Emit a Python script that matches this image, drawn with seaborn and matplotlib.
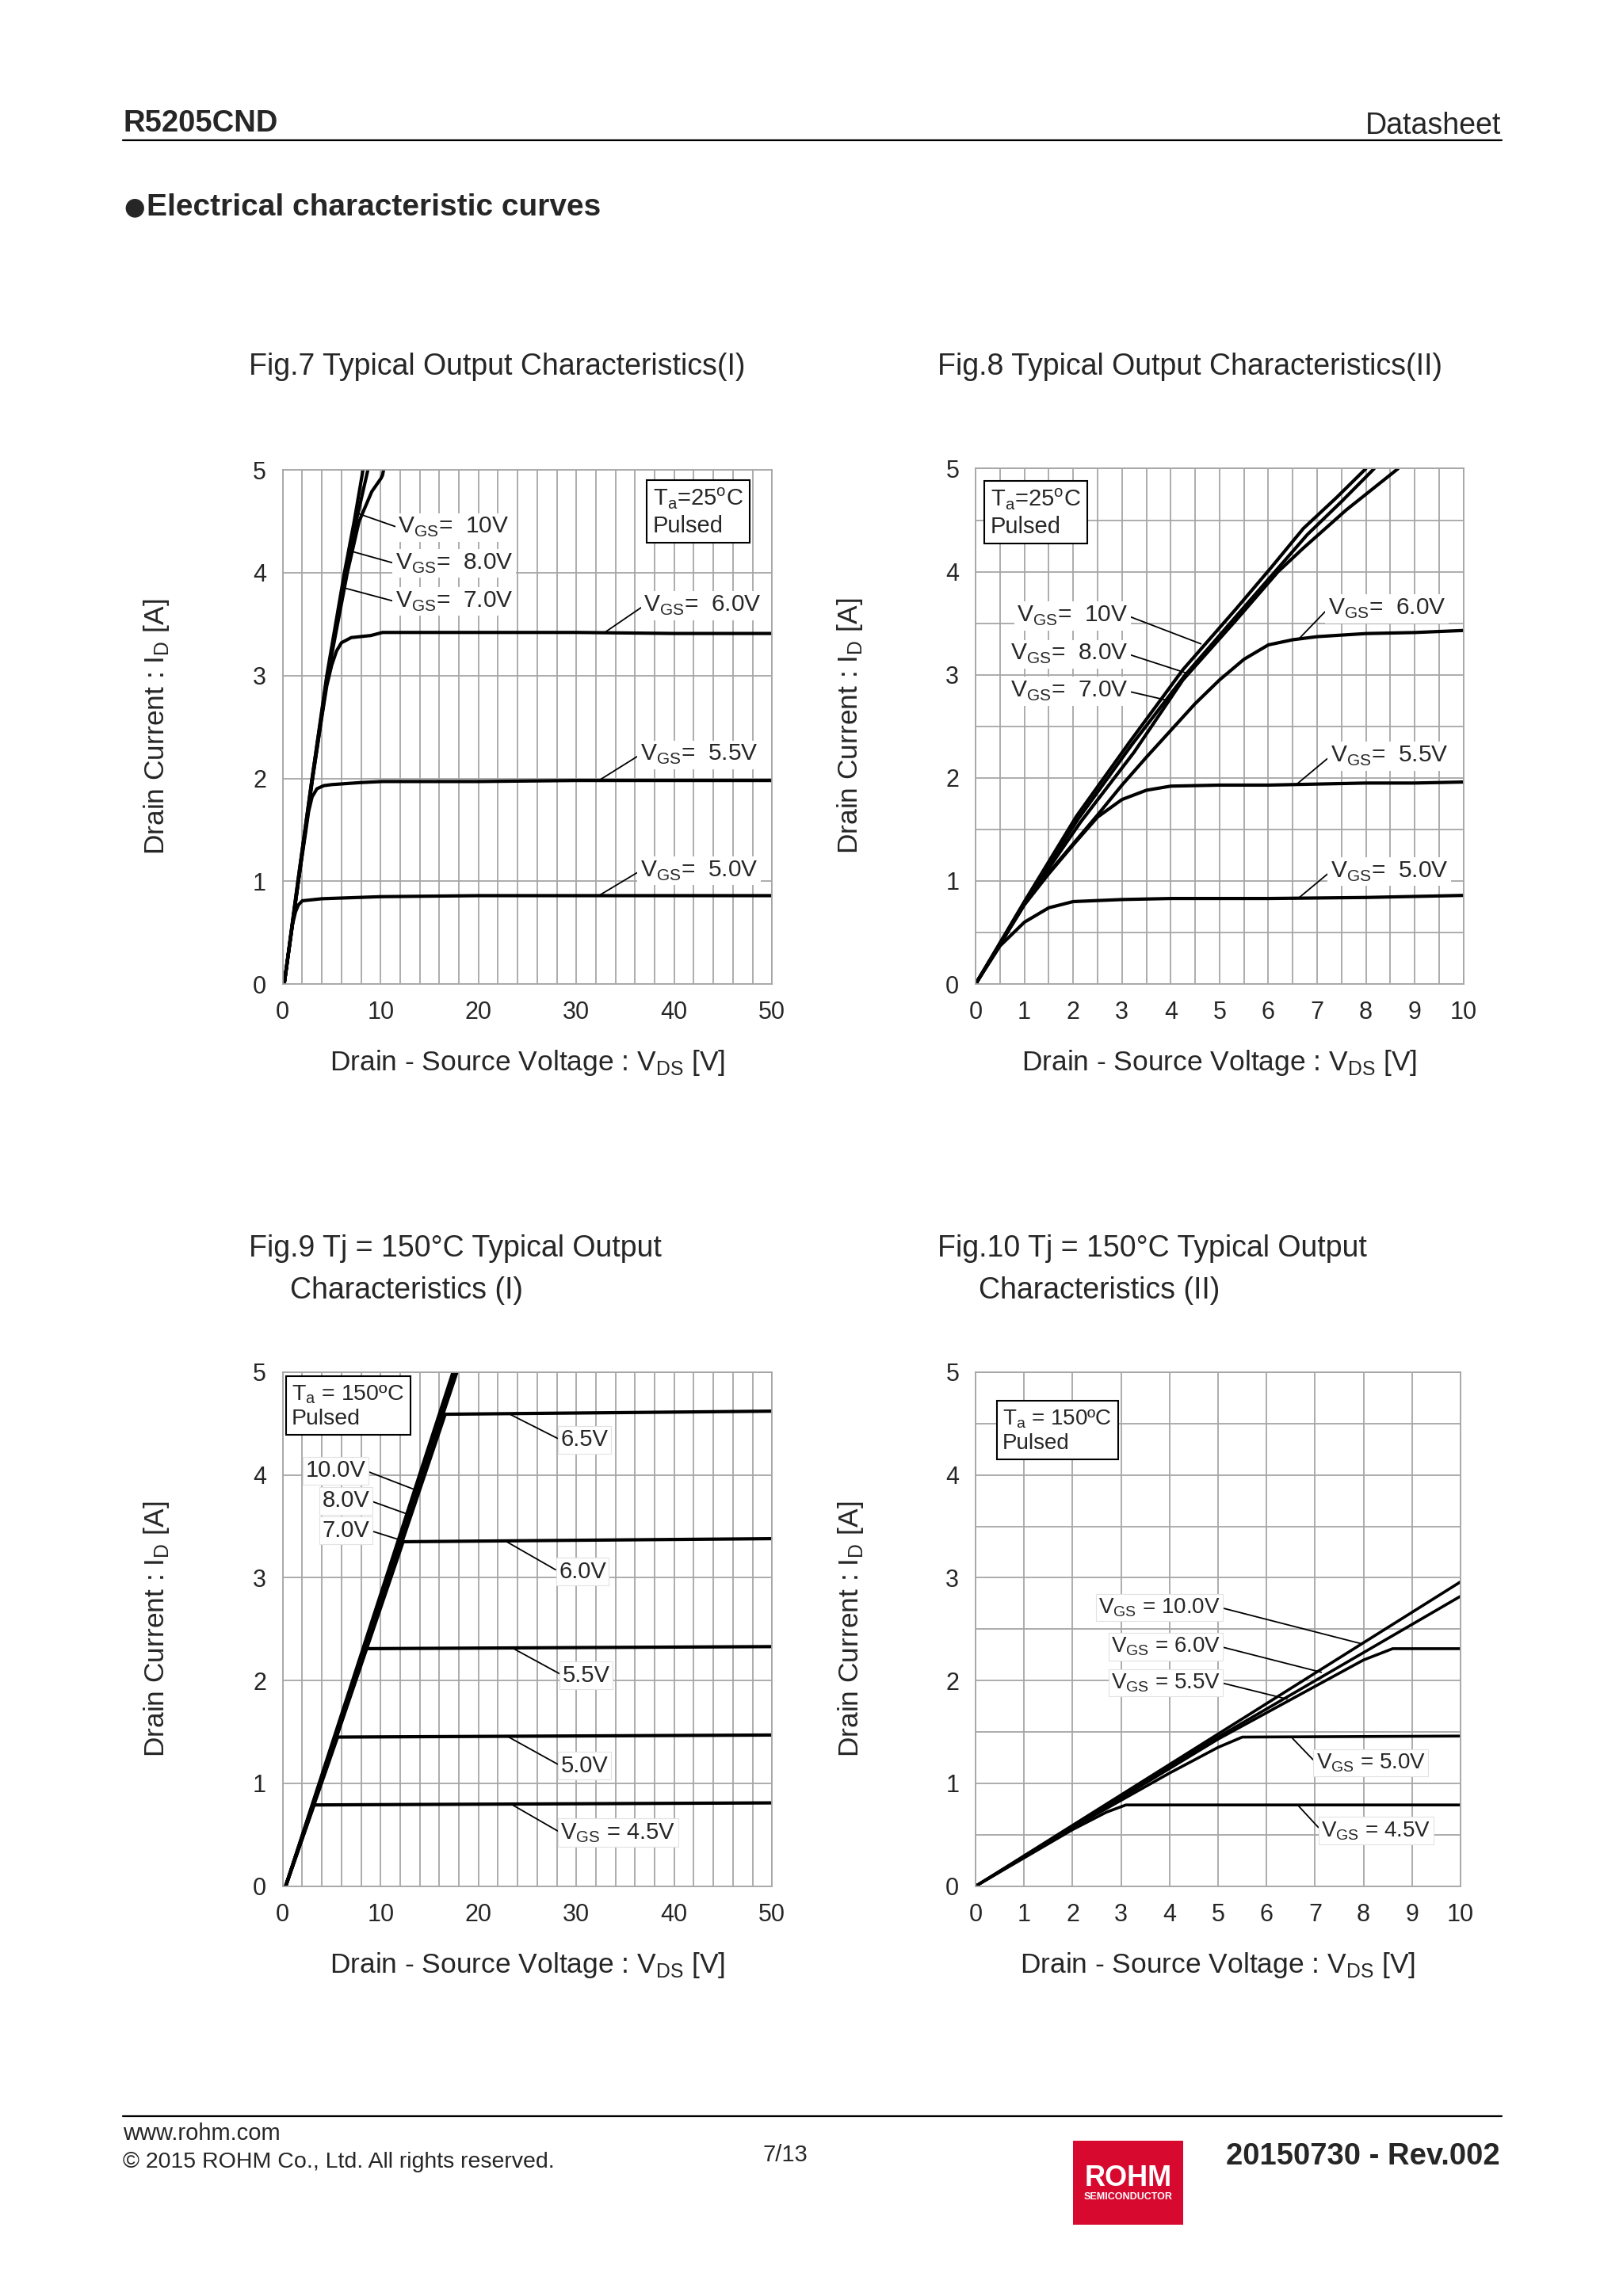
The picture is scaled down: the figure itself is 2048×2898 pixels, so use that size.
import numpy as np
import pandas as pd
import matplotlib
matplotlib.use("Agg")
import matplotlib.pyplot as plt
from matplotlib.patches import Rectangle
import seaborn as sns

# ── Fig.7  Ta = 25 C, VDS 0..50 V ─────────────────────────────────────────
F7_10V_VDS = [0.15, 1.55, 3.0, 4.5, 6.3, 7.3, 8.2]
F7_10V_ID = [0.0, 1.0, 2.0, 3.0, 4.0, 4.5, 5.0]
F7_8V_VDS = [0.15, 1.55, 3.0, 4.55, 6.4, 7.5, 8.7]
F7_8V_ID = [0.0, 1.0, 2.0, 3.0, 4.0, 4.5, 5.0]
F7_7V_VDS = [0.15, 1.6, 3.05, 4.6, 6.6, 7.8, 9.1, 10.05, 10.2, 10.3]
F7_7V_ID = [0.0, 1.0, 2.0, 3.0, 4.0, 4.5, 4.79, 4.92, 4.95, 5.0]
F7_6V_VDS = [0.15, 1.6, 3.05, 4.0, 4.5, 5.0, 5.5, 6.0, 7.0, 8.0, 9.0, 10.2, 20.0, 30.0, 40.0, 50.0]
F7_6V_ID = [0.0, 1.0, 2.0, 2.6, 2.9, 3.1, 3.24, 3.32, 3.37, 3.38, 3.39, 3.42, 3.42, 3.42, 3.41, 3.41]
F7_55V_VDS = [0.15, 1.6, 2.3, 2.65, 3.0, 3.5, 4.2, 5.0, 8.0, 10.2, 20.0, 30.0, 40.0, 50.0]
F7_55V_ID = [0.0, 1.0, 1.45, 1.68, 1.82, 1.9, 1.93, 1.94, 1.96, 1.97, 1.97, 1.98, 1.98, 1.98]
F7_5V_VDS = [0.15, 1.0, 1.3, 1.6, 2.0, 3.0, 4.0, 10.0, 20.0, 30.0, 40.0, 50.0]
F7_5V_ID = [0.0, 0.58, 0.7, 0.77, 0.81, 0.82, 0.83, 0.85, 0.86, 0.86, 0.86, 0.86]

# ── Fig.8  Ta = 25 C, VDS 0..10 V ─────────────────────────────────────────
F8_10V_VDS = [0.0, 1.0, 2.07, 3.16, 4.25, 5.34, 6.04, 6.72, 7.4, 8.0]
F8_10V_ID = [0.0, 0.8, 1.63, 2.35, 3.05, 3.64, 4.03, 4.42, 4.72, 5.0]
F8_8V_VDS = [0.0, 1.0, 2.1, 3.2, 4.3, 5.4, 6.1, 6.8, 7.5, 8.17]
F8_8V_ID = [0.0, 0.79, 1.6, 2.32, 3.0, 3.6, 3.98, 4.36, 4.68, 5.0]
F8_7V_VDS = [0.0, 1.0, 2.15, 3.25, 4.25, 5.34, 6.2, 6.72, 7.6, 8.66]
F8_7V_ID = [0.0, 0.78, 1.57, 2.25, 2.95, 3.53, 4.0, 4.23, 4.6, 5.0]
F8_6V_VDS = [0.0, 1.0, 1.5, 2.0, 2.5, 3.0, 3.5, 4.0, 4.5, 5.0, 5.5, 6.0, 6.5, 7.0, 8.0, 9.0, 10.0]
F8_6V_ID = [0.0, 0.77, 1.08, 1.36, 1.64, 1.93, 2.2, 2.46, 2.72, 2.95, 3.15, 3.29, 3.34, 3.37,
            3.4, 3.41, 3.43]
F8_55V_VDS = [0.0, 1.0, 1.5, 2.0, 2.5, 3.0, 3.5, 4.0, 5.0, 6.0, 7.0, 8.0, 9.0, 10.0]
F8_55V_ID = [0.0, 0.77, 1.07, 1.35, 1.62, 1.79, 1.88, 1.92, 1.93, 1.93, 1.94, 1.95, 1.95, 1.96]
F8_5V_VDS = [0.0, 0.5, 1.0, 1.5, 2.0, 2.5, 3.0, 4.0, 6.0, 8.0, 10.0]
F8_5V_ID = [0.0, 0.37, 0.6, 0.74, 0.8, 0.81, 0.82, 0.83, 0.83, 0.84, 0.86]

# ── Fig.9  Tj = 150 C, VDS 0..50 V ────────────────────────────────────────
F9_10V_VDS = [0.3, 17.8]
F9_10V_ID = [0.0, 5.0]
F9_8V_VDS = [0.3, 17.6]
F9_8V_ID = [0.0, 5.0]
F9_7V_VDS = [0.3, 17.4]
F9_7V_ID = [0.0, 5.0]
F9_65V_VDS = [0.3, 16.6, 50.0]
F9_65V_ID = [0.0, 4.59, 4.62]
F9_6V_VDS = [0.3, 12.3, 50.0]
F9_6V_ID = [0.0, 3.35, 3.38]
F9_55V_VDS = [0.3, 8.5, 50.0]
F9_55V_ID = [0.0, 2.31, 2.33]
F9_5V_VDS = [0.3, 5.6, 50.0]
F9_5V_ID = [0.0, 1.45, 1.47]
F9_45V_VDS = [0.3, 3.2, 50.0]
F9_45V_ID = [0.0, 0.79, 0.81]

# ── Fig.10  Tj = 150 C, VDS 0..10 V ───────────────────────────────────────
F10_10V_VDS = [0.0, 10.0]
F10_10V_ID = [0.0, 2.96]
F10_6V_VDS = [0.0, 5.0, 10.0]
F10_6V_ID = [0.0, 1.45, 2.82]
F10_55V_VDS = [0.0, 5.0, 8.0, 8.6, 10.0]
F10_55V_ID = [0.0, 1.43, 2.2, 2.31, 2.31]
F10_5V_VDS = [0.0, 2.0, 4.0, 5.0, 5.5, 10.0]
F10_5V_ID = [0.0, 0.57, 1.1, 1.35, 1.45, 1.46]
F10_45V_VDS = [0.0, 2.0, 2.7, 3.1, 10.0]
F10_45V_ID = [0.0, 0.55, 0.72, 0.79, 0.79]

X_LABEL = r"Drain - Source Voltage : V$_{\mathregular{DS}}$ [V]"
Y_LABEL = r"Drain Current : I$_{\mathregular{D}}$ [A]"
GRID = "#a6a6a6"
FONT = ["Liberation Sans", "DejaVu Sans"]


def frame(curves):
    parts = [pd.DataFrame({"vgs": name, "vds": x, "id": y}) for name, x, y in curves]
    return pd.concat(parts, ignore_index=True)


def draw_curves(ax, curves, lw):
    sns.lineplot(data=frame(curves), x="vds", y="id", units="vgs", estimator=None,
                 sort=False, color="black", lw=lw, legend=False, ax=ax)


def style_axes(ax, xmax, xmajor, xminor, yminor):
    ax.set_xlim(0, xmax)
    ax.set_ylim(0, 5)
    ax.set_xticks(np.arange(0, xmax + 1e-9, xmajor))
    ax.set_xticks(np.arange(0, xmax + 1e-9, xminor), minor=True)
    ax.set_yticks(np.arange(0, 6, 1))
    ax.set_yticks(np.arange(0, 5.01, yminor), minor=True)
    ax.grid(which="both", color=GRID, lw=1.3)
    ax.set_axisbelow(True)
    ax.tick_params(which="both", length=0, labelsize=22, pad=15)
    for s in ax.spines.values():
        s.set_color(GRID)
        s.set_linewidth(1.3)
    ax.set_xlabel(X_LABEL, fontsize=25.5)
    ax.set_ylabel(Y_LABEL, fontsize=25.5)
    ax.xaxis.set_label_coords(0.5, -0.125)
    ax.yaxis.set_label_coords(-0.228, 0.5)


def tag(ax, text, tip, pos, ha="left", size=21.5, edge="none"):
    ax.annotate(text, xy=tip, xytext=pos, ha=ha, va="center", fontsize=size, zorder=6,
                bbox=dict(boxstyle="square,pad=0.12", fc="white", ec=edge, lw=0.8),
                arrowprops=dict(arrowstyle="-", color="black", lw=1.3, shrinkA=0, shrinkB=0,
                                relpos=(0.0 if ha == "left" else 1.0, 0.5)))


def cond_box(ax, text, pos, size=21):
    ax.text(pos[0], pos[1], text, ha="left", va="top", fontsize=size, zorder=6,
            linespacing=1.2,
            bbox=dict(boxstyle="square,pad=0.25", fc="white", ec="black", lw=1.5))


sns.set_theme(style="white")
plt.rcParams["font.family"] = FONT
plt.rcParams["mathtext.fontset"] = "custom"
plt.rcParams["mathtext.rm"] = "Liberation Sans"

fig = plt.figure(figsize=(20.48, 28.98), dpi=100)

# ── Page header ───────────────────────────────────────────────────────────
fig.text(0.0757, 0.9427, "R5205CND", fontsize=27.5, fontweight="bold", va="baseline")
fig.text(0.9251, 0.9416, "Datasheet", fontsize=27, ha="right", va="baseline")
fig.add_artist(plt.Line2D([0.0757, 0.9251], [0.9388, 0.9388], color="black", lw=1.6))
fig.text(0.0762, 0.9066, "●", fontsize=22, va="baseline", family=["DejaVu Sans"])
fig.text(0.0905, 0.9062, "Electrical characteristic curves", fontsize=28,
         fontweight="bold", va="baseline")

fig.text(0.1535, 0.8367, "Fig.7 Typical Output Characteristics(I)", fontsize=27, va="baseline")
fig.text(0.5776, 0.8367, "Fig.8 Typical Output Characteristics(II)", fontsize=27, va="baseline")
fig.text(0.1535, 0.4527, "Fig.9 Tj = 150°C Typical Output", fontsize=27, va="baseline")
fig.text(0.1787, 0.4343, "Characteristics (I)", fontsize=27, va="baseline")
fig.text(0.5776, 0.4527, "Fig.10 Tj = 150°C Typical Output", fontsize=27, va="baseline")
fig.text(0.6030, 0.4343, "Characteristics (II)", fontsize=27, va="baseline")

# ── Fig.7 ─────────────────────────────────────────────────────────────────
ax1 = fig.add_axes([0.1742, 0.5714, 0.3015, 0.2239])
draw_curves(ax1, [("10V", F7_10V_VDS, F7_10V_ID), ("8.0V", F7_8V_VDS, F7_8V_ID),
                  ("7.0V", F7_7V_VDS, F7_7V_ID), ("6.0V", F7_6V_VDS, F7_6V_ID),
                  ("5.5V", F7_55V_VDS, F7_55V_ID), ("5.0V", F7_5V_VDS, F7_5V_ID)], lw=3.0)
style_axes(ax1, 50, 10, 2, 1)
tag(ax1, r"V$_{\mathregular{GS}}$=  10V", (7.6, 4.58), (11.8, 4.44))
tag(ax1, r"V$_{\mathregular{GS}}$=  8.0V", (7.0, 4.21), (11.5, 4.09))
tag(ax1, r"V$_{\mathregular{GS}}$=  7.0V", (6.4, 3.85), (11.5, 3.72))
tag(ax1, r"V$_{\mathregular{GS}}$=  6.0V", (32.9, 3.42), (36.9, 3.68))
tag(ax1, r"V$_{\mathregular{GS}}$=  5.5V", (32.3, 1.98), (36.5, 2.23))
tag(ax1, r"V$_{\mathregular{GS}}$=  5.0V", (32.3, 0.86), (36.5, 1.10))
cond_box(ax1, "T$_{\\mathregular{a}}$=25$^{\\mathregular{o}}$C \nPulsed", (37.8, 4.84))

# ── Fig.8 ─────────────────────────────────────────────────────────────────
ax2 = fig.add_axes([0.6011, 0.5714, 0.3006, 0.2245])
draw_curves(ax2, [("10V", F8_10V_VDS, F8_10V_ID), ("8.0V", F8_8V_VDS, F8_8V_ID),
                  ("7.0V", F8_7V_VDS, F8_7V_ID), ("6.0V", F8_6V_VDS, F8_6V_ID),
                  ("5.5V", F8_55V_VDS, F8_55V_ID), ("5.0V", F8_5V_VDS, F8_5V_ID)], lw=3.0)
style_axes(ax2, 10, 1, 0.5, 0.5)
tag(ax2, r"V$_{\mathregular{GS}}$=  10V", (4.62, 3.3), (3.13, 3.57), ha="right")
tag(ax2, r"V$_{\mathregular{GS}}$=  8.0V", (4.3, 3.02), (3.13, 3.2), ha="right")
tag(ax2, r"V$_{\mathregular{GS}}$=  7.0V", (3.95, 2.75), (3.13, 2.84), ha="right")
tag(ax2, r"V$_{\mathregular{GS}}$=  6.0V", (6.63, 3.35), (7.22, 3.64))
tag(ax2, r"V$_{\mathregular{GS}}$=  5.5V", (6.56, 1.93), (7.27, 2.21))
tag(ax2, r"V$_{\mathregular{GS}}$=  5.0V", (6.61, 0.83), (7.27, 1.09))
cond_box(ax2, "T$_{\\mathregular{a}}$=25$^{\\mathregular{o}}$C \nPulsed", (0.3, 4.82))

# ── Fig.9 ─────────────────────────────────────────────────────────────────
ax3 = fig.add_axes([0.1742, 0.1785, 0.3015, 0.2239])
draw_curves(ax3, [("10.0V", F9_10V_VDS, F9_10V_ID), ("8.0V", F9_8V_VDS, F9_8V_ID),
                  ("7.0V", F9_7V_VDS, F9_7V_ID), ("6.5V", F9_65V_VDS, F9_65V_ID),
                  ("6.0V", F9_6V_VDS, F9_6V_ID), ("5.5V", F9_55V_VDS, F9_55V_ID),
                  ("5.0V", F9_5V_VDS, F9_5V_ID), ("4.5V", F9_45V_VDS, F9_45V_ID)], lw=3.0)
style_axes(ax3, 50, 10, 2, 1)
edge = "#e2e2e2"
tag(ax3, "6.5V", (23.0, 4.60), (28.4, 4.34), size=21, edge=edge)
tag(ax3, "10.0V", (13.4, 3.86), (8.5, 4.04), ha="right", size=21, edge=edge)
tag(ax3, "8.0V", (12.7, 3.62), (8.9, 3.75), ha="right", size=21, edge=edge)
tag(ax3, "7.0V", (11.9, 3.37), (8.9, 3.46), ha="right", size=21, edge=edge)
tag(ax3, "6.0V", (22.7, 3.36), (28.2, 3.06), size=21, edge=edge)
tag(ax3, "5.5V", (23.4, 2.32), (28.6, 2.05), size=21, edge=edge)
tag(ax3, "5.0V", (22.9, 1.46), (28.4, 1.17), size=21, edge=edge)
tag(ax3, r"V$_{\mathregular{GS}}$ = 4.5V", (23.3, 0.80), (28.4, 0.52), size=21, edge=edge)
cond_box(ax3, "T$_{\\mathregular{a}}$ = 150ºC \nPulsed", (0.9, 4.9), size=20.5)

# ── Fig.10 ────────────────────────────────────────────────────────────────
ax4 = fig.add_axes([0.6011, 0.1785, 0.2988, 0.2239])
draw_curves(ax4, [("10.0V", F10_10V_VDS, F10_10V_ID), ("6.0V", F10_6V_VDS, F10_6V_ID),
                  ("5.5V", F10_55V_VDS, F10_55V_ID), ("5.0V", F10_5V_VDS, F10_5V_ID),
                  ("4.5V", F10_45V_VDS, F10_45V_ID)], lw=2.6)
style_axes(ax4, 10, 1, 1, 0.5)
tag(ax4, r"V$_{\mathregular{GS}}$ = 10.0V", (7.94, 2.36), (5.05, 2.71), ha="right", size=20, edge=edge)
tag(ax4, r"V$_{\mathregular{GS}}$ = 6.0V", (7.13, 2.08), (5.05, 2.33), ha="right", size=20, edge=edge)
tag(ax4, r"V$_{\mathregular{GS}}$ = 5.5V", (6.42, 1.82), (5.05, 1.98), ha="right", size=20, edge=edge)
tag(ax4, r"V$_{\mathregular{GS}}$ = 5.0V", (6.51, 1.45), (7.02, 1.20), size=20, edge=edge)
tag(ax4, r"V$_{\mathregular{GS}}$ = 4.5V", (6.64, 0.79), (7.13, 0.54), size=20, edge=edge)
cond_box(ax4, "T$_{\\mathregular{a}}$ = 150ºC \nPulsed", (0.55, 4.66), size=20)

# ── Page footer ───────────────────────────────────────────────────────────
fig.add_artist(plt.Line2D([0.0757, 0.9251], [0.0783, 0.0783], color="black", lw=1.6))
fig.text(0.0757, 0.0681, "www.rohm.com", fontsize=21, va="baseline")
fig.text(0.0757, 0.0560, "© 2015 ROHM Co., Ltd. All rights reserved.", fontsize=20.5,
         va="baseline")
fig.text(0.4838, 0.0586, "7/13", fontsize=21, ha="center", va="baseline")
fig.text(0.9242, 0.0573, "20150730 - Rev.002", fontsize=27.5, fontweight="bold",
         ha="right", va="baseline")
fig.add_artist(Rectangle((0.6611, 0.0311), 0.0679, 0.0367, transform=fig.transFigure,
                         facecolor="#d7092f", edgecolor="none"))
fig.text(0.6950, 0.0514, "ROHM", fontsize=26, fontweight="bold", color="white",
         ha="center", va="center")
fig.text(0.6950, 0.0431, "SEMICONDUCTOR", fontsize=9, fontweight="bold", color="white",
         ha="center", va="center")

fig.savefig("out.png", dpi=100, facecolor="white")
plt.close(fig)
